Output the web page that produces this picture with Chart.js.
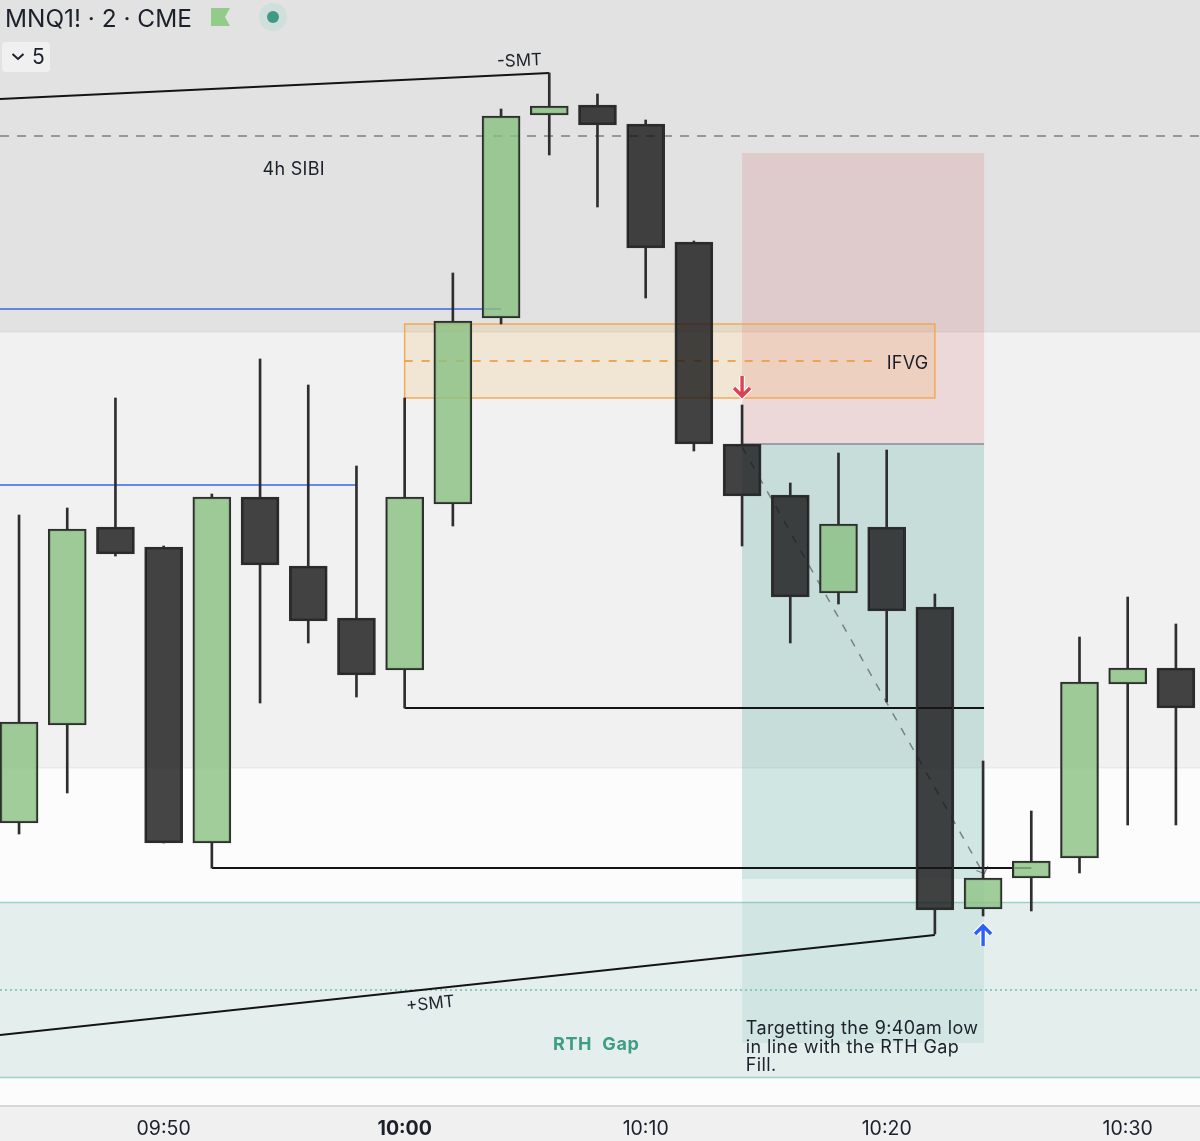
<!DOCTYPE html>
<html>
<head>
<meta charset="utf-8">
<title>MNQ1! 2 CME</title>
<script src="https://cdn.jsdelivr.net/npm/chart.js@4"></script>
<style>
  html, body { margin: 0; padding: 0; background: #fcfcfc; }
  #wrap { position: relative; width: 1200px; height: 1141px; overflow: hidden; font-family: Inter, sans-serif; }
  #priceChart { position: absolute; left: 0; top: 0; }
  #symbol { position: absolute; left: 5px; top: 3px; font-size: 24.4px; line-height: 30px; color: #1c202b; white-space: nowrap; }
  #flag { position: absolute; left: 210px; top: 8px; }
  #status { position: absolute; left: 259px; top: 3px; width: 28px; height: 28px; border-radius: 50%; background: #cfe0dc; }
  #status i { position: absolute; left: 8px; top: 8px; width: 12px; height: 12px; border-radius: 50%; background: #3f9a85; }
  #collapse { position: absolute; left: 2px; top: 42px; width: 48px; height: 30px; border-radius: 4px; background: #f0f0f0; color: #1c202b; font-size: 21px; line-height: 30px; }
  #collapse svg { position: absolute; left: 9px; top: 10px; }
  #collapse span { position: absolute; left: 30px; top: 0; }
</style>
</head>
<body>
<div id="wrap">
  <canvas id="priceChart" width="1200" height="1141"></canvas>
  <div id="symbol">MNQ1! · 2 · CME</div>
  <svg id="flag" width="20" height="19"><path d="M1 0H20L15 9L20 18H1Z" fill="#93cb8b"/></svg>
  <div id="status"><i></i></div>
  <div id="collapse">
    <svg width="14" height="10"><path d="M1.5 2L7 7L12.5 2" fill="none" stroke="#1c202b" stroke-width="2"/></svg>
    <span>5</span>
  </div>
</div>
<script>
// bar times in minutes after midnight
var times = [584, 586, 588, 590, 592, 594, 596, 598, 600, 602, 604, 606, 608, 610, 612, 614, 616, 618, 620, 622, 624, 626, 628, 630, 632];
var opens = [19917.7, 19927.5, 19947.3, 19945.3, 19915.7, 19950.3, 19943.4, 19938.2, 19933.0, 19949.6, 19968.2, 19988.5, 19989.5, 19987.6, 19975.8, 19955.6, 19950.5, 19940.7, 19947.3, 19939.3, 19909.1, 19912.2, 19914.2, 19931.6, 19933.2];
var highs = [19948.5, 19949.2, 19960.2, 19945.4, 19950.6, 19964.1, 19961.5, 19953.4, 19960.2, 19972.7, 19989.1, 19992.7, 19990.6, 19988.0, 19975.9, 19959.5, 19951.7, 19954.7, 19955.0, 19940.6, 19923.9, 19918.9, 19936.3, 19940.3, 19937.6];
var lows = [19916.6, 19920.7, 19944.4, 19915.7, 19913.2, 19929.7, 19935.7, 19930.3, 19929.2, 19947.4, 19967.6, 19984.5, 19979.3, 19970.2, 19954.9, 19945.4, 19935.7, 19939.6, 19929.8, 19906.6, 19908.4, 19908.9, 19912.7, 19917.5, 19917.5];
var closes = [19927.8, 19947.1, 19944.6, 19915.7, 19950.3, 19943.5, 19937.9, 19932.5, 19950.3, 19967.9, 19988.4, 19989.4, 19987.5, 19975.2, 19955.6, 19950.4, 19940.3, 19947.6, 19938.9, 19909.0, 19912.2, 19913.9, 19931.8, 19933.2, 19929.2];

var tickTimes = [590, 600, 610, 620, 630];
var tickLabels = ['09:50', '10:00', '10:10', '10:20', '10:30'];

var xMin = 583.21, xMax = 633;
var yMin = 19889.5, yMax = 20000;

// drawn lines, as [time, price]
var negSmt = [[583.21, 19990.1], [606, 19992.7]];
var posSmt = [[583.21, 19896.5], [622, 19906.5]];
var sibiMid = [[583.21, 19986.4], [633, 19986.4]];
var blueHigh = [[583.21, 19969.1], [604, 19969.1]];
var blueLow = [[583.21, 19951.5], [598, 19951.5]];
var lowSweep = [[600, 19929.2], [624.04, 19929.2]];
var gapSweep = [[592, 19913.2], [626, 19913.2]];
var ifvgMid = [[600, 19963.9], [619.75, 19963.9]];
var gapMid = [[583.21, 19901], [633, 19901]];
var tradePath = [[614, 19955.3], [624, 19912.7]];
var tradeHead = [[623.72, 19912.95], [624.05, 19912.65], [624.2, 19913.4]];

// boxes: [time from, time to, price top, price bottom]
var premiumBand = [xMin, xMax, yMax, 19966.8];
var sessionBand = [xMin, xMax, yMax, 19923.2];
var gapBox = [xMin, xMax, 19909.75, 19892.25];
var ifvgBox = [600, 622, 19967.6, 19960.2];
var stopBox = [614, 624.04, 19984.7, 19955.6];
var targetHit = [614, 624.04, 19955.6, 19912.1];
var targetRest = [614, 624.04, 19912.1, 19895.7];

function linePoints(rows) {
    return rows.map(function (r) { return { x: r[0], y: r[1] }; });
}

function lineSet(rows, color, width, dash) {
    return {
        type: 'line',
        data: linePoints(rows),
        borderColor: color,
        borderWidth: width,
        borderDash: dash || [],
        pointRadius: 0,
        tension: 0,
        order: 5
    };
}

function isUp(i) {
    return closes[i] >= opens[i];
}

function wickSet(data) {
    return {
        type: 'bar',
        data: data,
        backgroundColor: '#2e2e2e',
        borderWidth: 0,
        barThickness: 2,
        grouped: false,
        order: 2
    };
}

function box(chart, b, fill, stroke) {
    var c = chart.ctx, x = chart.scales.x, y = chart.scales.y;
    var l = x.getPixelForValue(b[0]), r = x.getPixelForValue(b[1]);
    var t = y.getPixelForValue(b[2]), u = y.getPixelForValue(b[3]);
    c.fillStyle = fill;
    c.fillRect(l, t, r - l, u - t);
    if (stroke) {
        c.strokeStyle = stroke;
        c.lineWidth = 1.5;
        c.strokeRect(l, t, r - l, u - t);
    }
}

function rule(chart, price, color) {
    chart.ctx.fillStyle = color;
    chart.ctx.fillRect(0, chart.scales.y.getPixelForValue(price) - 0.75, 1200, 1.5);
}

var overlays = {
    id: 'overlays',
    beforeDraw: function (chart) {
        var c = chart.ctx, a = chart.chartArea;
        c.save();
        c.fillStyle = '#fcfcfc';
        c.fillRect(0, 0, 1200, a.bottom);
        c.fillStyle = '#f0f0f0';
        c.fillRect(0, a.bottom, 1200, 1141 - a.bottom);
        c.fillStyle = '#d8d8d8';
        c.fillRect(0, a.bottom, 1200, 2);
        c.restore();
    },
    // session bands, gap and trade boxes sit under the candles
    beforeDatasetsDraw: function (chart) {
        var c = chart.ctx, x = chart.scales.x, y = chart.scales.y;
        c.save();
        box(chart, sessionBand, 'rgba(0,0,0,0.044)');
        box(chart, premiumBand, 'rgba(0,0,0,0.06)');
        rule(chart, premiumBand[3], 'rgba(0,0,0,0.045)');
        rule(chart, sessionBand[3], 'rgba(0,0,0,0.045)');
        box(chart, gapBox, 'rgba(56,150,130,0.12)');
        rule(chart, gapBox[2], 'rgba(100,190,165,0.6)');
        rule(chart, gapBox[3], 'rgba(100,190,165,0.6)');
        box(chart, stopBox, 'rgba(214,90,90,0.16)');
        box(chart, targetHit, 'rgba(73,165,153,0.25)');
        box(chart, targetRest, 'rgba(73,165,153,0.12)');
        c.fillStyle = 'rgba(110,125,135,0.8)';
        c.fillRect(x.getPixelForValue(stopBox[0]), y.getPixelForValue(stopBox[3]) - 0.75, x.getPixelForValue(stopBox[1]) - x.getPixelForValue(stopBox[0]), 1.5);
        box(chart, ifvgBox, 'rgba(245,170,60,0.16)', 'rgba(243,165,70,0.9)');
        c.restore();
    },
    afterDatasetsDraw: function (chart) {
        var c = chart.ctx, x = chart.scales.x, y = chart.scales.y;

        function text(str, time, price, font, color, align, angle, spacing) {
            c.save();
            c.translate(x.getPixelForValue(time), y.getPixelForValue(price));
            c.rotate((angle || 0) * Math.PI / 180);
            c.font = font;
            c.fillStyle = color;
            c.textAlign = align || 'left';
            c.textBaseline = 'middle';
            c.letterSpacing = spacing || '0px';
            c.fillText(str, 0, 0);
            c.restore();
        }

        // shaft and head of a signal arrow, tip at the given price
        function arrow(time, price, dir, color) {
            var px = x.getPixelForValue(time), tip = y.getPixelForValue(price);
            function trace() {
                c.beginPath();
                c.moveTo(px, tip - dir * 21);
                c.lineTo(px, tip - dir * 1);
                c.moveTo(px - 8, tip - dir * 9);
                c.lineTo(px, tip - dir * 1);
                c.lineTo(px + 8, tip - dir * 9);
                c.stroke();
            }
            c.lineCap = 'butt';
            c.strokeStyle = '#ffffff';
            c.lineWidth = 6;
            trace();
            c.strokeStyle = color;
            c.lineWidth = 3.4;
            trace();
        }

        c.save();
        arrow(614, 19960.3, 1, '#e0404f');
        arrow(624, 19907.5, -1, '#2f5ffa');

        text('-SMT', 603.83, 19993.8, '17px Inter', '#1c202b', 'left', -2.5);
        text('+SMT', 601.07, 19899.6, '17px Inter', '#1c202b', 'center', -6);
        text('4h SIBI', 594.1, 19983.05, '18px Inter', '#1c202b', 'left', 0, '0.3px');
        text('IFVG', 620.0, 19963.65, '18px Inter', '#1c202b', 'left', 0, '0.3px');
        text('RTH  Gap', 606.15, 19895.55, 'bold 18px Inter', '#3f9c85', 'left', 0, '0.7px');
        text('Targetting the 9:40am low', 614.15, 19897.1, '18px Inter', '#1c202b', 'left', 0, '0.4px');
        text('in line with the RTH Gap', 614.15, 19895.25, '18px Inter', '#1c202b', 'left', 0, '0.4px');
        text('Fill.', 614.15, 19893.4, '18px Inter', '#1c202b', 'left', 0, '0.4px');
        c.restore();
    }
};

new Chart(document.getElementById('priceChart').getContext('2d'), {
    data: {
        datasets: [
            // candle bodies
            {
                type: 'bar',
                data: times.map(function (t, i) { return { x: t, y: [opens[i], closes[i]] }; }),
                backgroundColor: times.map(function (t, i) { return isUp(i) ? 'rgba(137,192,130,0.8)' : 'rgba(22,22,22,0.8)'; }),
                borderColor: '#2e2e2e',
                borderWidth: 2,
                borderSkipped: false,
                barThickness: 38,
                grouped: false,
                order: 1
            },
            // wicks above and below each body
            wickSet(times.map(function (t, i) { return { x: t, y: [Math.max(opens[i], closes[i]), highs[i]] }; })),
            wickSet(times.map(function (t, i) { return { x: t, y: [lows[i], Math.min(opens[i], closes[i])] }; })),
            lineSet(negSmt, '#141414', 2),
            lineSet(posSmt, '#141414', 2),
            lineSet(lowSweep, '#141414', 2),
            lineSet(gapSweep, '#141414', 2),
            lineSet(sibiMid, '#7f7f88', 1.5, [9, 8]),
            lineSet(blueHigh, '#3a63e8', 1.5),
            lineSet(blueLow, '#3a63e8', 1.5),
            lineSet(ifvgMid, '#ec9236', 1.5, [8, 9]),
            lineSet(gapMid, '#6cc0a8', 1.5, [2, 3]),
            lineSet(tradePath, '#7a8088', 1.5, [8, 9]),
            lineSet(tradeHead, '#7a8088', 1.2)
        ]
    },
    options: {
        responsive: false,
        animation: false,
        events: [],
        layout: { padding: 0 },
        plugins: { legend: { display: false }, tooltip: { enabled: false } },
        scales: {
            x: {
                type: 'linear',
                offset: false,
                min: xMin,
                max: xMax,
                grid: { display: false },
                border: { display: false },
                afterBuildTicks: function (axis) {
                    axis.ticks = tickTimes.map(function (v) { return { value: v }; });
                },
                afterFit: function (axis) { axis.height = 36; },
                ticks: {
                    autoSkip: false,
                    maxRotation: 0,
                    padding: 4,
                    color: '#1c202b',
                    font: function (ctx) {
                        var bold = ctx.tick && ctx.tick.value === 600;
                        return { family: 'Inter', size: 19.5, weight: bold ? 'bold' : 'normal' };
                    },
                    callback: function (value) {
                        return tickLabels[tickTimes.indexOf(value)];
                    }
                }
            },
            y: {
                type: 'linear',
                display: false,
                min: yMin,
                max: yMax
            }
        }
    },
    plugins: [overlays]
});
</script>
</body>
</html>
